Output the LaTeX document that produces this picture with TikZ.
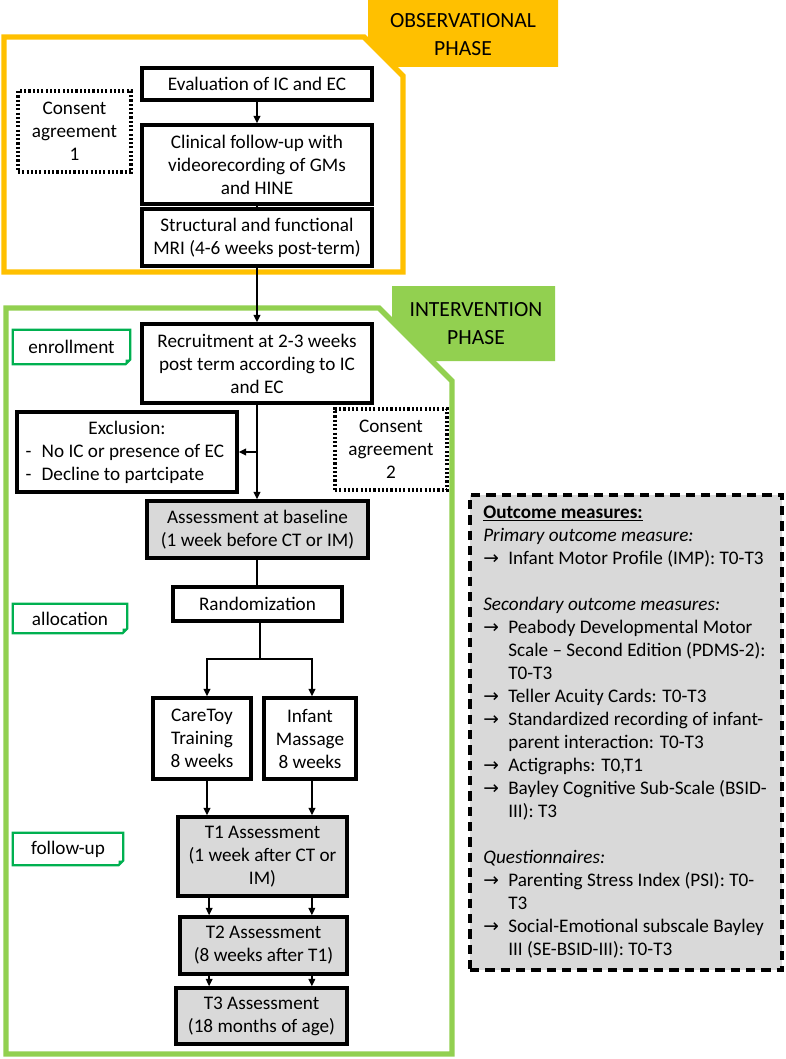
\documentclass[tikz,border=0pt]{standalone}
\usepackage{fontspec}
\setmainfont{Carlito}
\newfontfamily\dejavu{DejaVu Sans}
\usetikzlibrary{arrows.meta}
\definecolor{obsor}{HTML}{FFC000}
\definecolor{intgr}{HTML}{92D050}
\definecolor{tabgr}{HTML}{00B050}
\definecolor{boxgray}{HTML}{D9D9D9}
\newcommand\oarr{\makebox[18.75pt][l]{\dejavu\fontsize{14}{14}\selectfont →}}
\newcommand\oind{\hspace*{18.75pt}}
\begin{document}
\begin{tikzpicture}[x=0.75pt,y=-0.75pt,
  every node/.style={font=\fontsize{14.4}{17.25}\selectfont},
  wh/.style 2 args={minimum width=#1*0.75pt, minimum height=#2*0.75pt},
  bx/.style={draw=black, line width=2.6pt, inner sep=0pt, align=center, fill=white},
  gbx/.style={bx, fill=boxgray},
  dotbx/.style={draw=black, line width=2.5pt, dash pattern=on 1.6pt off 1.6pt, inner sep=0pt, align=center},
  tabnode/.style={inner sep=0pt, align=center},
  tabline/.style={draw=tabgr, line width=1.6pt, line join=miter},
  conn/.style={line width=1.1pt, -{Triangle[length=5.5pt,width=5pt]}},
  plainln/.style={line width=1.1pt},
  phase/.style={font=\fontsize{16.2}{21}\selectfont, align=center, inner sep=0pt},
  frameline/.style={line width=4pt, line join=miter},
]
\useasboundingbox (0,0) rectangle (785,1059);

% ---------- Observational phase frame ----------
\draw[frameline, draw=obsor] (4,37) -- (364,37) -- (403,76) -- (403,272) -- (4,272) -- cycle;
\fill[obsor] (368,0) -- (558,0) -- (558,67) -- (397,67) -- (405,76) -- (368,40) -- cycle;
\node[phase] (obslab) at (463,35) {OBSERVATIONAL\\PHASE};

% ---------- Intervention phase frame ----------
\draw[frameline, draw=intgr] (6,308) -- (379,308) -- (452,381) -- (452,1054) -- (6,1054) -- cycle;
\fill[intgr] (392,286) -- (555,286) -- (555,361) -- (433,361) -- (453,381) -- (392,321) -- cycle;
\node[phase] (intlab) at (476,324) {INTERVENTION\\PHASE};

% ---------- Observational boxes ----------
\node[bx, wh={230}{32}] (ev) at (257,84) {Evaluation of IC and EC};
\node[bx, wh={230}{79}] (cl) at (257,164.5) {Clinical follow-up with\\videorecording of GMs\\and HINE};
\node[bx, wh={230}{57}] (mri) at (257,237.5) {Structural and functional\\MRI (4-6 weeks post-term)};
\node[dotbx, wh={113}{81}] (ca1) at (74.5,131.5) {Consent\\agreement\\1};

% ---------- Intervention boxes ----------
\node[bx, wh={230}{79}] (rec) at (257,363.5) {Recruitment at 2-3 weeks\\post term according to IC\\and EC};
\node[bx, wh={220}{80}, align=left] (exc) at (127,452) {\makebox[152pt][c]{Exclusion:}\\\makebox[12pt][l]{-}No IC or presence of EC\\\makebox[12pt][l]{-}Decline to partcipate};
\node[dotbx, wh={112}{81}] (ca2) at (391,449.5) {Consent\\agreement\\2};
\node[gbx, wh={221}{57}] (base) at (257.5,529.5) {Assessment at baseline\\(1 week before CT or IM)};
\node[bx, wh={169}{34}] (rand) at (257.5,604) {Randomization};
\node[bx, wh={98}{81}] (ct) at (202,738.5) {CareToy\\Training\\8 weeks};
\node[bx, wh={92}{81}] (im) at (310,738.5) {Infant\\Massage\\8 weeks};
\node[gbx, wh={169}{79}] (t1) at (262.5,856.5) {T1 Assessment\\(1 week after CT or\\IM)};
\node[gbx, wh={167}{57}] (t2) at (263.5,945.5) {T2 Assessment\\(8 weeks after T1)};
\node[gbx, wh={171}{56}] (t3) at (261.5,1016) {T3 Assessment\\(18 months of age)};

% ---------- Tabs ----------
\foreach \nm/\cx/\cy/\w/\h/\txt in {en/71.5/347/117/34/enrollment, al/70/618.5/114/29/allocation, fu/68/849/110/32/follow-up}{
  \node[tabnode, wh={\w}{\h}] (\nm) at (\cx,\cy) {\txt};
  \draw[tabline] (\nm.north west) -- (\nm.north east) -- ([yshift=3.5pt]\nm.south east) -- ([xshift=-3.5pt]\nm.south east) -- (\nm.south west) -- cycle;
  \fill[tabgr] ([yshift=3.5pt]\nm.south east) -- ([xshift=-3.5pt]\nm.south east) -- ([xshift=-3.5pt,yshift=3.5pt]\nm.south east) -- cycle;
}

% ---------- Outcome measures ----------
\node[draw=black, fill=boxgray, line width=2.8pt, dash pattern=on 7pt off 4.5pt, wh={312}{475}, inner sep=0pt] (om) at (626,732.5) {};
\node[anchor=base west, inner sep=0pt] (omtext) at (483,518) {\begin{minipage}[t]{228pt}\raggedright\fontsize{14.4}{17.25}\selectfont
\textbf{\underline{Outcome measures:}}\\
\textit{Primary outcome measure:}\\
\oarr Infant Motor Profile (IMP): T0-T3\\
\mbox{}\\
\textit{Secondary outcome measures:}\\
\oarr Peabody Developmental Motor\\
\oind Scale – Second Edition (PDMS-2):\\
\oind T0-T3\\
\oarr Teller Acuity Cards: T0-T3\\
\oarr Standardized recording of infant-\\
\oind parent interaction: T0-T3\\
\oarr Actigraphs: T0,T1\\
\oarr Bayley Cognitive Sub-Scale (BSID-\\
\oind III): T3\\
\mbox{}\\
\textit{Questionnaires:}\\
\oarr Parenting Stress Index (PSI): T0-\\
\oind T3\\
\oarr Social-Emotional subscale Bayley\\
\oind III (SE-BSID-III): T0-T3
\end{minipage}};

% ---------- Connectors ----------
\draw[conn] (ev.south) -- (cl.north);
\draw[plainln] (cl.south) -- (mri.north);
\draw[conn] (mri.south) -- (rec.north);
\draw[conn] (rec.south) -- (rec.south |- base.north);
\coordinate (exj) at (rec.south |- exc.east);
\draw[conn] (exj) -- (exc.east);
\draw[plainln] (base.south -| rec.south) -- (rec.south |- rand.north);
\coordinate (sp) at (260,659);
\draw[line width=1.8pt] (rand.south -| sp) -- (sp);
\draw[conn] (sp) -| ([xshift=3.75pt]ct.north);
\draw[conn] (sp) -| ([xshift=1.5pt]im.north);
\draw[conn] ([xshift=3.75pt]ct.south) -- ([xshift=3.75pt]ct.south |- t1.north);
\draw[conn] ([xshift=1.5pt]im.south) -- ([xshift=1.5pt]im.south |- t1.north);
\draw[conn] ([xshift=-40pt]t1.south) -- ([xshift=-40pt]t1.south |- t2.north);
\draw[conn] ([xshift=37pt]t1.south) -- ([xshift=37pt]t1.south |- t2.north);
\draw[conn] ([xshift=-40pt]t1.south |- t2.south) -- ([xshift=-40pt]t1.south |- t3.north);
\draw[conn] ([xshift=37pt]t1.south |- t2.south) -- ([xshift=37pt]t1.south |- t3.north);
\end{tikzpicture}
\end{document}
